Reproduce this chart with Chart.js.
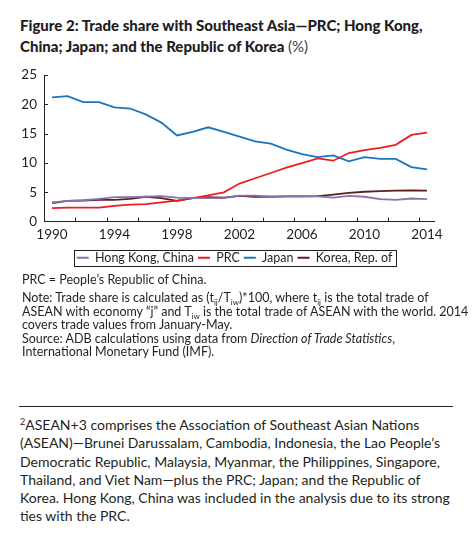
<!DOCTYPE html>
<html><head><meta charset="utf-8">
<script src="https://cdn.jsdelivr.net/npm/chart.js@4"></script>
<style>
body{margin:0;width:473px;height:541px;background:#fff;font-family:Lato,sans-serif;color:#231f20;position:relative;overflow:hidden}
#title{position:absolute;left:20px;top:15px;font-size:15px;font-weight:900;line-height:21px;color:#1f1d24;white-space:nowrap}
#title span{font-weight:400;color:#3d3a55}
#wrap{position:absolute;left:0;top:60px;width:473px;height:214px}
.n{position:absolute;left:22px;font-size:12.5px;line-height:14px;white-space:nowrap}
.n sub{font-size:8px;line-height:0;vertical-align:-3px}
#rule{position:absolute;left:19px;top:406px;width:434px;height:1px;background:#231f20}
#foot{position:absolute;left:20px;top:416px;font-size:14px;line-height:18.3px;white-space:nowrap}
#foot sup{font-size:9px;line-height:0;vertical-align:5px}
</style></head><body>
<div id="title">Figure 2: Trade share with Southeast Asia—PRC; Hong Kong,<br>China; Japan; and the Republic of Korea <span>(%)</span></div>
<div id="wrap"><canvas id="c"></canvas></div>
<div class="n" style="top:273px">PRC = People’s Republic of China.</div>
<div class="n" style="top:291px">Note: Trade share is calculated as (t<sub>ij</sub>/T<sub>iw</sub>)*100, where t<sub>ij</sub> is the total trade of</div>
<div class="n" style="top:305px">ASEAN with economy “j” and T<sub>iw</sub> is the total trade of ASEAN with the world. 2014</div>
<div class="n" style="top:318px">covers trade values from January-May.</div>
<div class="n" style="top:332px">Source: ADB calculations using data from <i>Direction of Trade Statistics</i>,</div>
<div class="n" style="top:345px">International Monetary Fund (IMF).</div>
<div id="rule"></div>
<div id="foot"><sup>2</sup>ASEAN+3 comprises the Association of Southeast Asian Nations<br>(ASEAN)—Brunei Darussalam, Cambodia, Indonesia, the Lao People’s<br>Democratic Republic, Malaysia, Myanmar, the Philippines, Singapore,<br>Thailand, and Viet Nam—plus the PRC; Japan; and the Republic of<br>Korea. Hong Kong, China was included in the analysis due to its strong<br>ties with the PRC.</div>
<script>
const years = [1990,1991,1992,1993,1994,1995,1996,1997,1998,1999,2000,2001,2002,2003,2004,2005,2006,2007,2008,2009,2010,2011,2012,2013,2014];
const hongKong = [3.3,3.55,3.65,3.9,4.2,4.2,4.25,4.35,4.1,4.0,4.0,4.0,4.45,4.45,4.25,4.3,4.3,4.3,4.1,4.4,4.25,3.85,3.7,3.95,3.85];
const prc = [2.3,2.4,2.4,2.4,2.7,2.9,3.0,3.3,3.6,4.0,4.5,5.0,6.5,7.4,8.3,9.2,10.0,10.8,10.4,11.7,12.2,12.6,13.1,14.8,15.2];
const japan = [21.2,21.4,20.4,20.4,19.5,19.3,18.3,16.9,14.7,15.3,16.1,15.3,14.5,13.7,13.3,12.3,11.5,11.0,11.3,10.3,11.0,10.7,10.7,9.3,8.9];
const korea = [3.15,3.55,3.6,3.7,3.7,3.9,4.25,4.0,3.55,4.0,4.2,4.1,4.4,4.25,4.25,4.3,4.3,4.35,4.6,4.9,5.1,5.2,5.3,5.35,5.3];
const seriesNames = ["Hong Kong, China","PRC","Japan","Korea, Rep. of"];
const xTickLabels = [1990,1994,1998,2002,2006,2010,2014];
const xTickMarks = [1991.5,1993.5,1995.5,1997.5,1999.5,2001.5,2003.5,2005.5,2007.5,2009.5,2011.5,2013.5];
const yTicks = [0,5,10,15,20,25];

const ink = '#231f20';
const colors = ['#8a72ad','#ed1c24','#1b75bb','#5b1f1f'];
function pts(arr){ return years.map((y,i)=>({x:y,y:arr[i]})); }
const seriesData = [hongKong, prc, japan, korea];

const tickPlugin = {
  id:'innerTicks',
  afterLayout(chart){
    const lg = chart.legend;
    if (lg){ lg.left += 17.5; lg.right += 17.5; }
  },
  afterDraw(chart){
    const ctx = chart.ctx, xs = chart.scales.x, ys = chart.scales.y;
    const a = chart.chartArea;
    ctx.save();
    ctx.strokeStyle = ink; ctx.lineWidth = 1;
    ctx.beginPath();
    xTickMarks.forEach(v=>{ const px = Math.round(xs.getPixelForValue(v))+0.5; ctx.moveTo(px,a.bottom); ctx.lineTo(px,a.bottom-4); });
    yTicks.forEach(v=>{ if(v===0) return; const py = Math.round(ys.getPixelForValue(v))+0.5; ctx.moveTo(a.left,py); ctx.lineTo(a.left+4,py); });
    ctx.stroke();
    const hb = chart.legend.legendHitBoxes;
    if (hb && hb.length){
      let l=Infinity,r=-Infinity,t=Infinity,b=-Infinity;
      hb.forEach(h=>{l=Math.min(l,h.left);r=Math.max(r,h.left+h.width);t=Math.min(t,h.top);b=Math.max(b,h.top+h.height);});
      ctx.strokeRect(Math.round(l-3)+0.5, Math.round(t-2)+0.5, Math.round(r-l+6), Math.round(b-t+3));
    }
    ctx.restore();
  }
};

Chart.defaults.font.family = 'Lato';
Chart.defaults.color = ink;
new Chart(document.getElementById('c'), {
  type:'line',
  data:{ datasets: seriesNames.map((n,i)=>({label:n, data:pts(seriesData[i]), borderColor:colors[i], backgroundColor:colors[i], borderWidth:1.8, pointRadius:0, tension:0})) },
  options:{
    responsive:true, maintainAspectRatio:false, animation:false,
    layout:{padding:{top:5,right:39,left:0,bottom:0}},
    plugins:{
      tooltip:{enabled:false},
      legend:{position:'bottom', labels:{boxWidth:12, boxHeight:2, padding:4, color:ink, font:{size:12.5},
        generateLabels(chart){ return Chart.defaults.plugins.legend.labels.generateLabels(chart).map(l=>Object.assign(l,{lineWidth:0})); }}}
    },
    scales:{
      x:{type:'linear', min:1989.488, max:2014.448,
        afterBuildTicks(s){ s.ticks = xTickLabels.map(v=>({value:v})); },
        ticks:{callback:v=>String(v), padding:5.5, maxRotation:0, autoSkip:false, font:{size:13.5, lineHeight:1.1}, color:ink},
        grid:{display:false, drawTicks:false}, border:{display:true, color:ink, width:1}},
      y:{min:0, max:25,
        afterBuildTicks(s){ s.ticks = yTicks.map(v=>({value:v})); },
        afterFit(s){ s.width = 44; },
        ticks:{padding:7, font:{size:13.5}, color:ink},
        grid:{display:false, drawTicks:false}, border:{display:true, color:ink, width:1}}
    }
  },
  plugins:[tickPlugin]
});
</script>
</body></html>
